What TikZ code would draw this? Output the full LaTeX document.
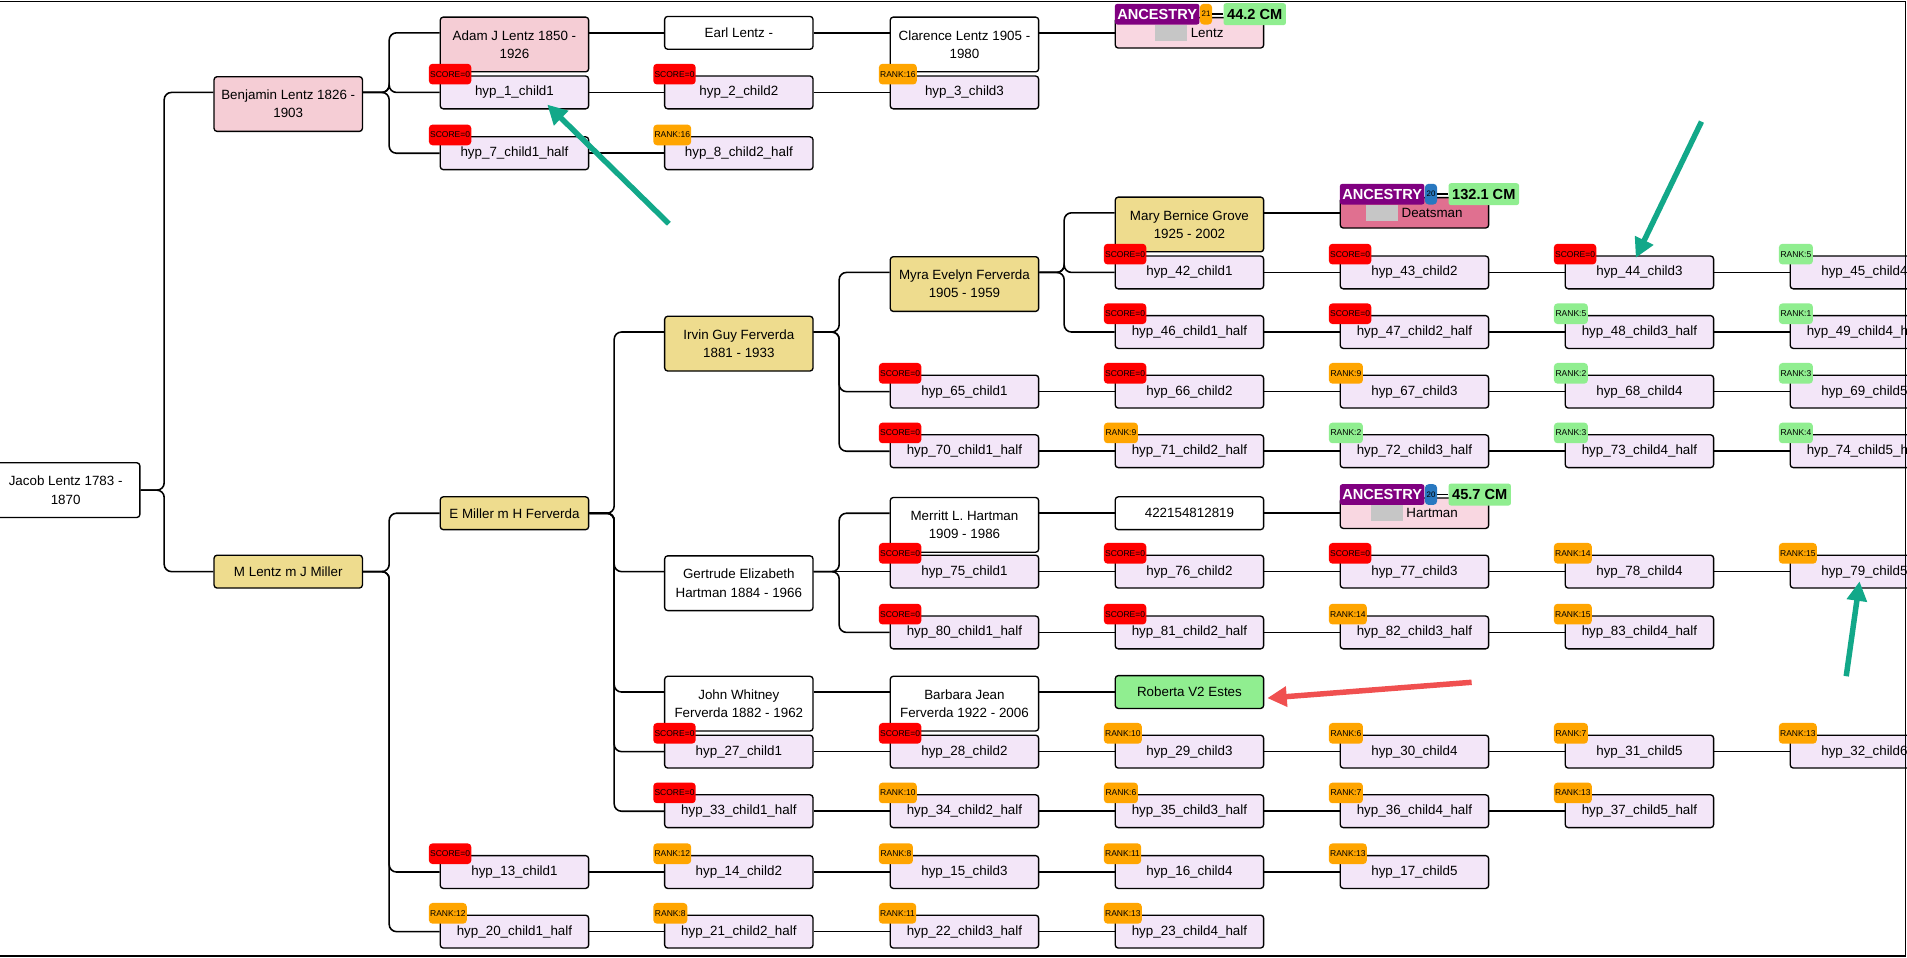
\documentclass[tikz,border=0pt]{standalone}
\usepackage{fontspec}
\setmainfont{Liberation Sans}
\usetikzlibrary{calc,arrows.meta}
\definecolor{hypfill}{HTML}{F3E6F8}
\definecolor{pinkf}{HTML}{F5CDD5}
\definecolor{yel}{HTML}{EEDC8E}
\definecolor{ancf}{HTML}{F9D7E1}
\definecolor{ancd}{HTML}{E07090}
\definecolor{lgreen}{HTML}{90EE90}
\definecolor{bred}{HTML}{FF0000}
\definecolor{borange}{HTML}{FFA500}
\definecolor{purp}{HTML}{800080}
\definecolor{bblue}{HTML}{2878C0}
\definecolor{teal}{HTML}{12A889}
\definecolor{redarr}{HTML}{F05050}
\newcommand\hn[5]{\node[#1] (#2) at (#3,#4) {#5};\coordinate (#2L) at (#2.west);\coordinate (#2R) at (#2.east);}
\newcommand\tn[5]{\node[#1,anchor=north] (#2) at (#3,#4-13.5) {#5};\coordinate (#2L) at ($(#2.north west)+(0,13.5)$);\coordinate (#2R) at ($(#2.north east)+(0,13.5)$);}
\newcommand\bdg[3]{\node[badge,fill=#1,anchor=west] (#2b) at ($(#2.north west)+(-9,-1)$) {#3};}
\newcommand\bS[1]{\bdg{bred}{#1}{SCORE=0}}
\newcommand\bO[2]{\bdg{borange}{#1}{RANK:#2}}
\newcommand\bG[2]{\bdg{lgreen}{#1}{RANK:#2}}
\newcommand\anc[4]{% node, number colour, number, cm
 \node[anclab,anchor=north west] (#1a) at ($(#1.north west)+(0,-11)$) {ANCESTRY};
 \node[ancnum,fill=#2,anchor=west] (#1n) at (#1a.east) {#3};
 \node[anccm,anchor=west] (#1c) at ($(#1n.east)+(9,0)$) {#4};
 \draw[line width=1.3pt] (#1n.east) -- (#1c.west);}
\newcommand\blur{\textcolor{gray!45}{\rule[-3pt]{26pt}{13pt}}\ }
\begin{document}
\begin{tikzpicture}[x=1pt,y=-1pt,
 base/.style={draw,line width=1.1pt,rounded corners=2.5pt,minimum width=122pt,minimum height=27pt,align=center,inner sep=1pt,font=\fontsize{11}{15}\selectfont},
 hyp/.style={base,fill=hypfill},
 wht/.style={base,fill=white},
 pnk/.style={base,fill=pinkf},
 yl/.style={base,fill=yel},
 two/.style={minimum height=45pt},
 ancb/.style={base,fill=ancf,minimum height=25pt},
 badge/.style={rounded corners=3pt,inner sep=1pt,minimum height=17pt,minimum width=28pt,font=\fontsize{7}{8}\selectfont},
 anclab/.style={fill=purp,text=white,rounded corners=2pt,inner sep=2pt,minimum height=17pt,font=\bfseries\fontsize{12}{13}\selectfont},
 ancnum/.style={rounded corners=3pt,inner sep=0.3pt,minimum height=17pt,minimum width=10pt,font=\fontsize{6.5}{7}\selectfont},
 anccm/.style={fill=lgreen,rounded corners=2pt,inner sep=3pt,minimum height=18pt,font=\bfseries\fontsize{12}{13}\selectfont},
 conn/.style={line width=1.3pt,rounded corners=6pt},
 tarr/.style={teal,line width=4.5pt,-{Triangle[width=16pt,length=16pt]}},
 rarr/.style={redarr,line width=4.5pt,-{Triangle[width=16pt,length=16pt]}}]
\useasboundingbox (0,0) rectangle (1568,787);
\clip (0,0) rectangle (1568,787);
\fill[white] (0,0) rectangle (1568,787);
% bus coordinates
\coordinate (b0) at (135,0);\coordinate (b1) at (320,0);\coordinate (b2) at (505,0);
\coordinate (b3) at (690,0);\coordinate (b4) at (875,0);
% nodes
\hn{wht,two}{jacob}{54}{403}{Jacob Lentz 1783 -\\1870}
\tn{pnk,two}{benj}{237}{76}{Benjamin Lentz 1826 -\\1903}
\hn{yl}{mlentz}{237}{470}{M Lentz m J Miller}
\tn{pnk,two}{adam}{423}{27}{Adam J Lentz 1850 -\\1926}
\hn{wht}{earl}{607.5}{27}{Earl Lentz -}
\tn{wht,two}{clar}{793}{27}{Clarence Lentz 1905 -\\1980}
\hn{ancb}{ancL}{978}{27}{\blur Lentz}
\hn{hyp}{h1}{423}{76}{hyp\_1\_child1}
\hn{hyp}{h2}{607.5}{76}{hyp\_2\_child2}
\hn{hyp}{h3}{793}{76}{hyp\_3\_child3}
\hn{hyp}{h7}{423}{126}{hyp\_7\_child1\_half}
\hn{hyp}{h8}{607.5}{126}{hyp\_8\_child2\_half}
\hn{yl}{emil}{423}{422}{E Miller m H Ferverda}
\tn{yl,two}{irvin}{607.5}{273}{Irvin Guy Ferverda\\1881 - 1933}
\tn{yl,two}{myra}{793}{224}{Myra Evelyn Ferverda\\1905 - 1959}
\tn{yl,two}{mary}{978}{175}{Mary Bernice Grove\\1925 - 2002}
\hn{ancb,fill=ancd}{ancD}{1163}{175}{\blur Deatsman}
\hn{hyp}{h42}{978}{224}{hyp\_42\_child1}
\hn{hyp}{h43}{1163}{224}{hyp\_43\_child2}
\hn{hyp}{h44}{1348}{224}{hyp\_44\_child3}
\hn{hyp}{h45}{1533}{224}{hyp\_45\_child4}
\hn{hyp}{h46}{978}{273}{hyp\_46\_child1\_half}
\hn{hyp}{h47}{1163}{273}{hyp\_47\_child2\_half}
\hn{hyp}{h48}{1348}{273}{hyp\_48\_child3\_half}
\hn{hyp}{h49}{1533}{273}{hyp\_49\_child4\_half}
\hn{hyp}{h65}{793}{322}{hyp\_65\_child1}
\hn{hyp}{h66}{978}{322}{hyp\_66\_child2}
\hn{hyp}{h67}{1163}{322}{hyp\_67\_child3}
\hn{hyp}{h68}{1348}{322}{hyp\_68\_child4}
\hn{hyp}{h69}{1533}{322}{hyp\_69\_child5}
\hn{hyp}{h70}{793}{371}{hyp\_70\_child1\_half}
\hn{hyp}{h71}{978}{371}{hyp\_71\_child2\_half}
\hn{hyp}{h72}{1163}{371}{hyp\_72\_child3\_half}
\hn{hyp}{h73}{1348}{371}{hyp\_73\_child4\_half}
\hn{hyp}{h74}{1533}{371}{hyp\_74\_child5\_half}
\tn{wht,two}{gert}{607.5}{470}{Gertrude Elizabeth\\Hartman 1884 - 1966}
\tn{wht,two}{merr}{793}{422}{Merritt L. Hartman\\1909 - 1986}
\hn{wht}{num}{978}{422}{422154812819}
\hn{ancb}{ancH}{1163}{422}{\blur Hartman}
\hn{hyp}{h75}{793}{470}{hyp\_75\_child1}
\hn{hyp}{h76}{978}{470}{hyp\_76\_child2}
\hn{hyp}{h77}{1163}{470}{hyp\_77\_child3}
\hn{hyp}{h78}{1348}{470}{hyp\_78\_child4}
\hn{hyp}{h79}{1533}{470}{hyp\_79\_child5}
\hn{hyp}{h80}{793}{520}{hyp\_80\_child1\_half}
\hn{hyp}{h81}{978}{520}{hyp\_81\_child2\_half}
\hn{hyp}{h82}{1163}{520}{hyp\_82\_child3\_half}
\hn{hyp}{h83}{1348}{520}{hyp\_83\_child4\_half}
\tn{wht,two}{john}{607.5}{569}{John Whitney\\Ferverda 1882 - 1962}
\tn{wht,two}{barb}{793}{569}{Barbara Jean\\Ferverda 1922 - 2006}
\hn{base,fill=lgreen}{rob}{978}{569}{Roberta V2 Estes}
\hn{hyp}{h27}{607.5}{618}{hyp\_27\_child1}
\hn{hyp}{h28}{793}{618}{hyp\_28\_child2}
\hn{hyp}{h29}{978}{618}{hyp\_29\_child3}
\hn{hyp}{h30}{1163}{618}{hyp\_30\_child4}
\hn{hyp}{h31}{1348}{618}{hyp\_31\_child5}
\hn{hyp}{h32}{1533}{618}{hyp\_32\_child6}
\hn{hyp}{h33}{607.5}{667}{hyp\_33\_child1\_half}
\hn{hyp}{h34}{793}{667}{hyp\_34\_child2\_half}
\hn{hyp}{h35}{978}{667}{hyp\_35\_child3\_half}
\hn{hyp}{h36}{1163}{667}{hyp\_36\_child4\_half}
\hn{hyp}{h37}{1348}{667}{hyp\_37\_child5\_half}
\hn{hyp}{h13}{423}{717}{hyp\_13\_child1}
\hn{hyp}{h14}{607.5}{717}{hyp\_14\_child2}
\hn{hyp}{h15}{793}{717}{hyp\_15\_child3}
\hn{hyp}{h16}{978}{717}{hyp\_16\_child4}
\hn{hyp}{h17}{1163}{717}{hyp\_17\_child5}
\hn{hyp}{h20}{423}{766}{hyp\_20\_child1\_half}
\hn{hyp}{h21}{607.5}{766}{hyp\_21\_child2\_half}
\hn{hyp}{h22}{793}{766}{hyp\_22\_child3\_half}
\hn{hyp}{h23}{978}{766}{hyp\_23\_child4\_half}
% bus connectors
\foreach \p/\b/\cs in {jacob/b0/{benj,mlentz}, benj/b1/{adam,h1,h7}, mlentz/b1/{emil,h13,h20},
  emil/b2/{irvin,gert,john,h27,h33}, irvin/b3/{myra,h65,h70}, myra/b4/{mary,h42,h46}, gert/b3/{merr,h80}}
  {\foreach \c in \cs {\draw[conn] (\p R) -- (\p R -| \b) |- (\c L);}}
\draw[conn] (gertR) -- (h75L);
% chains
\foreach \a/\bb in {adam/earl,earl/clar,clar/ancL,h1/h2,h2/h3,h7/h8,mary/ancD,
 h42/h43,h43/h44,h44/h45,h46/h47,h47/h48,h48/h49,h65/h66,h66/h67,h67/h68,h68/h69,
 h70/h71,h71/h72,h72/h73,h73/h74,merr/num,num/ancH,h75/h76,h76/h77,h77/h78,h78/h79,
 h80/h81,h81/h82,h82/h83,john/barb,barb/rob,h27/h28,h28/h29,h29/h30,h30/h31,h31/h32,
 h33/h34,h34/h35,h35/h36,h36/h37,h13/h14,h14/h15,h15/h16,h16/h17,h20/h21,h21/h22,h22/h23}
 {\draw[conn] (\a R) -- (\bb L);}
% badges
\bS{h1}\bS{h2}\bO{h3}{16}\bS{h7}\bO{h8}{16}
\bS{h42}\bS{h43}\bS{h44}\bG{h45}{5}
\bS{h46}\bS{h47}\bG{h48}{5}\bG{h49}{1}
\bS{h65}\bS{h66}\bO{h67}{9}\bG{h68}{2}\bG{h69}{3}
\bS{h70}\bO{h71}{9}\bG{h72}{2}\bG{h73}{3}\bG{h74}{4}
\bS{h75}\bS{h76}\bS{h77}\bO{h78}{14}\bO{h79}{15}
\bS{h80}\bS{h81}\bO{h82}{14}\bO{h83}{15}
\bS{h27}\bS{h28}\bO{h29}{10}\bO{h30}{6}\bO{h31}{7}\bO{h32}{13}
\bS{h33}\bO{h34}{10}\bO{h35}{6}\bO{h36}{7}\bO{h37}{13}
\bS{h13}\bO{h14}{12}\bO{h15}{8}\bO{h16}{11}\bO{h17}{13}
\bO{h20}{12}\bO{h21}{8}\bO{h22}{11}\bO{h23}{13}
% ancestry labels
\anc{ancL}{borange}{21}{44.2 CM}
\anc{ancD}{bblue}{20}{132.1 CM}
\anc{ancH}{bblue}{20}{45.7 CM}
% annotation arrows
\coordinate (t1s) at (550,184);\coordinate (t1e) at (450,86);
\coordinate (t2s) at (1399,100);\coordinate (t2e) at (1345,212);
\coordinate (t3s) at (1518,556);\coordinate (t3e) at (1529,478);
\coordinate (r1s) at (1210,561);\coordinate (r1e) at (1042,574);
\draw[tarr] (t1s) -- (t1e);
\draw[tarr] (t2s) -- (t2e);
\draw[tarr] (t3s) -- (t3e);
\draw[rarr] (r1s) -- (r1e);
% frame
\draw[line width=1pt] (0,1) -- (1566.5,1) -- (1566.5,786) -- (0,786);
\end{tikzpicture}
\end{document}
